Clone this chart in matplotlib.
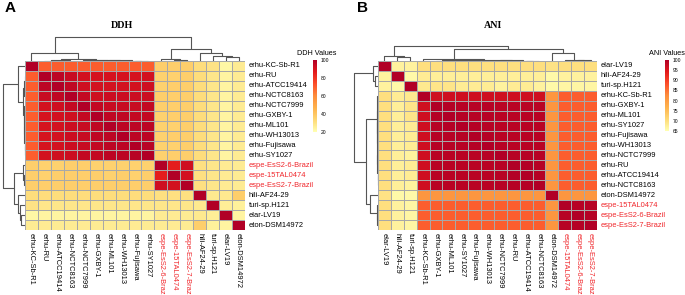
import matplotlib
matplotlib.use("Agg")
import matplotlib.pyplot as plt
import numpy as np
from matplotlib.colors import LinearSegmentedColormap

plt.rcParams["font.family"] = ["Liberation Sans", "DejaVu Sans"]

# ---------------- data ----------------
ddh_labels = ["erhu-KC-Sb-R1", "erhu-RU", "erhu-ATCC19414", "erhu-NCTC8163", "erhu-NCTC7999",
              "erhu-GXBY-1", "erhu-ML101", "erhu-WH13013", "erhu-Fujisawa", "erhu-SY1027",
              "espe-EsS2-6-Brazil", "espe-15TAL0474", "espe-EsS2-7-Brazil", "hili-AF24-29",
              "turi-sp.H121", "elar-LV19", "eton-DSM14972"]

ddh_values = [
    [100, 70, 70, 70, 70, 70, 70, 70, 70, 70, 37, 37, 37, 32, 30, 23, 27],
    [70, 100, 97, 94, 91, 90, 90, 90, 90, 91, 36, 36, 37, 32, 29, 24, 27],
    [70, 97, 100, 96, 92, 91, 91, 91, 91, 92, 36, 37, 37, 32, 29, 24, 27],
    [70, 94, 96, 100, 95, 92, 93, 93, 93, 93, 37, 37, 37, 32, 29, 24, 27],
    [70, 91, 92, 95, 100, 95, 94, 94, 94, 95, 37, 37, 37, 32, 29, 24, 27],
    [70, 90, 91, 92, 95, 100, 96, 96, 95, 95, 36, 37, 37, 32, 29, 24, 27],
    [70, 90, 91, 93, 94, 96, 100, 97, 97, 97, 36, 36, 37, 32, 29, 24, 27],
    [70, 90, 91, 93, 94, 96, 97, 100, 97, 97, 36, 37, 37, 32, 29, 24, 27],
    [70, 90, 91, 93, 94, 95, 97, 97, 100, 98, 36, 36, 37, 32, 29, 24, 27],
    [70, 91, 92, 93, 95, 95, 97, 97, 98, 100, 36, 37, 37, 32, 29, 24, 27],
    [37, 36, 36, 37, 37, 36, 36, 36, 36, 36, 100, 86, 92, 31, 29, 27, 27],
    [37, 36, 37, 37, 37, 37, 36, 37, 36, 37, 86, 100, 91, 31, 29, 27, 27],
    [37, 37, 37, 37, 37, 37, 37, 37, 37, 37, 92, 91, 100, 31, 29, 27, 27],
    [32, 32, 32, 32, 32, 32, 32, 32, 32, 32, 31, 31, 31, 100, 28, 28, 37],
    [30, 29, 29, 29, 29, 29, 29, 29, 29, 29, 29, 29, 29, 28, 100, 26, 25],
    [23, 24, 24, 24, 24, 24, 24, 24, 24, 24, 27, 27, 27, 28, 26, 100, 24],
    [27, 27, 27, 27, 27, 27, 27, 27, 27, 27, 27, 27, 27, 37, 25, 24, 100],
]

ani_labels = ["elar-LV19", "hili-AF24-29", "turi-sp.H121", "erhu-KC-Sb-R1", "erhu-GXBY-1",
              "erhu-ML101", "erhu-SY1027", "erhu-Fujisawa", "erhu-WH13013", "erhu-NCTC7999",
              "erhu-RU", "erhu-ATCC19414", "erhu-NCTC8163", "eton-DSM14972", "espe-15TAL0474",
              "espe-EsS2-6-Brazil", "espe-EsS2-7-Brazil"]

ani_values = [
    [100, 67, 67, 70, 70, 70, 70, 70, 70, 70, 70, 70, 70, 69.5, 70, 70, 70],
    [67, 100, 66, 68, 67.5, 67.5, 67.5, 67.5, 67.5, 67.5, 67.5, 67.5, 67.5, 66, 67, 67, 67],
    [67, 66, 100, 68.5, 69, 69, 68, 68, 68, 67, 68, 68, 67, 66, 66.5, 66.5, 66.5],
    [70, 68, 68.5, 100, 96.5, 96.5, 96.5, 96.5, 96.5, 96.5, 96.5, 96.5, 96.5, 81, 87, 87, 87],
    [70, 67.5, 69, 96.5, 100, 99.5, 99.3, 99.3, 99.3, 99, 99, 99, 99, 81, 87, 87, 87],
    [70, 67.5, 69, 96.5, 99.5, 100, 99.5, 99.3, 99.3, 99, 99, 99, 99, 81, 87, 87, 87],
    [70, 67.5, 68, 96.5, 99.3, 99.5, 100, 99.5, 99.3, 99, 99, 99, 99, 81, 87, 87, 87],
    [70, 67.5, 68, 96.5, 99.3, 99.3, 99.5, 100, 99.5, 99, 99, 99, 99, 81, 87, 87, 87],
    [70, 67.5, 68, 96.5, 99.3, 99.3, 99.3, 99.5, 100, 99.2, 99, 99, 99, 81, 87, 87, 87],
    [70, 67.5, 67, 96.5, 99, 99, 99, 99, 99.2, 100, 99.3, 99.3, 99.3, 81, 87, 87, 87],
    [70, 67.5, 68, 96.5, 99, 99, 99, 99, 99, 99.3, 100, 99.6, 99.4, 81, 87, 87, 87],
    [70, 67.5, 68, 96.5, 99, 99, 99, 99, 99, 99.3, 99.6, 100, 99.5, 81, 87, 87, 87],
    [70, 67.5, 67, 96.5, 99, 99, 99, 99, 99, 99.3, 99.4, 99.5, 100, 81, 87, 87, 87],
    [69.5, 66, 66, 81, 81, 81, 81, 81, 81, 81, 81, 81, 81, 100, 81, 81, 81],
    [70, 67, 66.5, 87, 87, 87, 87, 87, 87, 87, 87, 87, 87, 81, 100, 99.3, 99.3],
    [70, 67, 66.5, 87, 87, 87, 87, 87, 87, 87, 87, 87, 87, 81, 99.3, 100, 99.5],
    [70, 67, 66.5, 87, 87, 87, 87, 87, 87, 87, 87, 87, 87, 81, 99.3, 99.5, 100],
]

# dendrograms: (merge height, left, right), leaves are row/column indices
ddh_tree = (1.0,
            (0.33, 0, (0.07, (0.04, (0.02, 1, 2), 3),
                       (0.05, 4, (0.035, 5, (0.025, 6, (0.015, 7, (0.01, 8, 9))))))),
            (0.5, (0.08, 10, (0.05, 11, 12)),
             (0.33, 13, (0.21, 14, (0.17, 15, 16)))))

ani_col_tree = (1.0,
                (0.35, 0, (0.29, 1, 2)),
                (0.83, (0.13, 3, (0.08, (0.05, (0.03, 4, 5), (0.03, 6, (0.02, 7, 8))),
                                  (0.05, 9, (0.03, 10, (0.02, 11, 12))))),
                 (0.51, 13, (0.1, 14, (0.06, 15, 16)))))

ani_row_tree = (1.0,
                (0.21, 0, (0.12, 1, 2)),
                (0.5, (0.06, 3, (0.04, (0.03, (0.02, 4, 5), (0.02, 6, (0.015, 7, 8))),
                                 (0.03, 9, (0.02, 10, (0.015, 11, 12))))),
                 (0.33, 13, (0.05, 14, (0.03, 15, 16)))))

# ---------------- plotting ----------------
cmap = LinearSegmentedColormap.from_list(
    "ylorrd7", ["#FFFFB2", "#FED976", "#FEB24C", "#FD8D3C", "#FC4E2A", "#E31A1C", "#B10026"])

W, H = 685, 295
fig = plt.figure(figsize=(W / 100, H / 100), dpi=100)


def box(left, top, width, height):
    return [left / W, 1 - (top + height) / H, width / W, height / H]


def draw_tree(ax, node, side):
    if isinstance(node, int):
        return node + 0.5, 0.0
    h, a, b = node
    pa, ha = draw_tree(ax, a, side)
    pb, hb = draw_tree(ax, b, side)
    pos = [pa, pa, pb, pb]
    hts = [ha, h, h, hb]
    if side == "top":
        ax.plot(pos, hts, color="#555555", lw=0.8, solid_capstyle="butt")
    else:
        ax.plot(hts, pos, color="#555555", lw=0.8, solid_capstyle="butt")
    return (pa + pb) / 2, h


def panel(values, labels, col_tree, row_tree, hm, col_top, row_left, vmin, vmax, ticks,
          title, title_xy, letter, letter_xy, cbar, cbar_label_xy, cbar_name):
    n = len(labels)
    data = np.array(values, dtype=float)
    left, top, w, h = hm
    ax = fig.add_axes(box(left, top, w, h))
    mesh = ax.pcolormesh(np.arange(n + 1), np.arange(n + 1), data, cmap=cmap,
                         vmin=vmin, vmax=vmax, edgecolors="#a8a8a8", linewidth=0.6)
    ax.set_xlim(0, n)
    ax.set_ylim(n, 0)
    ax.set_xticks([])
    ax.set_yticks([])
    for s in ax.spines.values():
        s.set_visible(False)
    for i, lab in enumerate(labels):
        c = "#f0262b" if lab.startswith("espe") else "black"
        ax.text(n + 0.3, i + 0.5, lab, ha="left", va="center", fontsize=5.4, color=c)
        ax.text(i + 0.5, n + 0.35, lab, ha="center", va="top", rotation=270,
                fontsize=5.4, color=c)

    # column dendrogram
    tax = fig.add_axes(box(left, top - col_top - 2, w, col_top + 2))
    draw_tree(tax, col_tree, "top")
    tax.set_xlim(0, n)
    tax.set_ylim(0, (col_top + 2) / col_top)
    tax.axis("off")

    # row dendrogram
    rax = fig.add_axes(box(left - row_left - 2, top, row_left + 2, h))
    draw_tree(rax, row_tree, "left")
    rax.set_ylim(n, 0)
    rax.set_xlim((row_left + 2) / row_left, 0)
    rax.axis("off")

    # colour bar
    cax = fig.add_axes(box(*cbar))
    cb = fig.colorbar(mesh, cax=cax, ticks=ticks)
    cb.outline.set_visible(False)
    cax.tick_params(length=0, labelsize=3.6, pad=2.5)
    fig.text(cbar_label_xy[0] / W, 1 - cbar_label_xy[1] / H, cbar_name,
             ha="center", va="center", fontsize=5.2)

    fig.text(title_xy[0] / W, 1 - title_xy[1] / H, title, ha="center", va="center",
             fontsize=7.2, fontweight="bold", family=["Liberation Serif", "DejaVu Serif"])
    fig.text(letter_xy[0] / W, 1 - letter_xy[1] / H, letter, ha="center", va="center",
             fontsize=11, fontweight="bold")


panel(ddh_values, ddh_labels, ddh_tree, ddh_tree, (25, 61, 220, 169), 24, 22,
      20, 100, [20, 40, 60, 80, 100], "DDH", (122, 25), "A", (10, 8),
      (313, 60, 4, 72), (317, 53), "DDH Values")

panel(ani_values, ani_labels, ani_col_tree, ani_row_tree, (378, 61, 219, 169), 15, 24,
      65, 100, [65, 70, 75, 80, 85, 90, 95, 100], "ANI", (493, 25), "B", (362, 8),
      (665, 60, 4, 71), (667, 53), "ANI Values")

fig.savefig("out.png", dpi=100)
